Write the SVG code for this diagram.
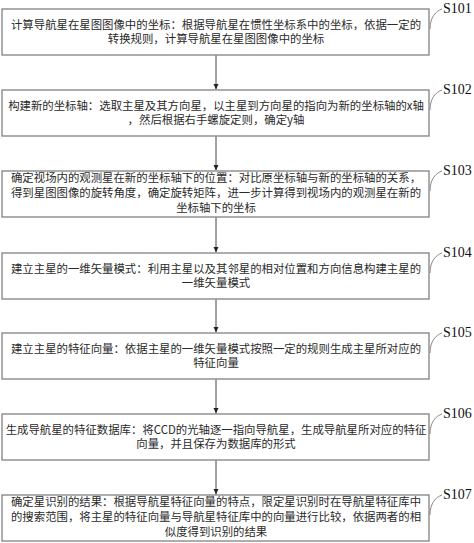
<svg xmlns="http://www.w3.org/2000/svg" width="474" height="543" viewBox="0 0 474 543">
<defs>
<marker id="ah" markerWidth="6" markerHeight="6" refX="5" refY="3" orient="auto" markerUnits="userSpaceOnUse">
<path d="M0,0.5 L5.5,3 L0,5.5 Z" fill="#222"/>
</marker>
<style>
.box{fill:#fff;stroke:#8a8a8a;stroke-width:1.4}
.t{font-family:"Noto Sans CJK SC","Noto Sans",sans-serif;font-size:11.4px;fill:#2a2a2a;text-anchor:middle}
.lbl{font-family:"Liberation Serif",serif;font-size:14px;fill:#111}
.lead{fill:none;stroke:#8a8a8a;stroke-width:1}
.conn{stroke:#444;stroke-width:1;fill:none}
</style>
</defs>
<rect width="474" height="543" fill="#fff"/>
<g id="connectors">
<line class="conn" x1="216" y1="55" x2="216" y2="89" marker-end="url(#ah)"/>
<line class="conn" x1="216" y1="136" x2="216" y2="170" marker-end="url(#ah)"/>
<line class="conn" x1="216" y1="217" x2="216" y2="252" marker-end="url(#ah)"/>
<line class="conn" x1="216" y1="299" x2="216" y2="332" marker-end="url(#ah)"/>
<line class="conn" x1="216" y1="379" x2="216" y2="413" marker-end="url(#ah)"/>
<line class="conn" x1="216" y1="460" x2="216" y2="494" marker-end="url(#ah)"/>
</g>
<g id="S101">
<rect class="box" x="2" y="9" width="427" height="46"/>
<text class="t" x="216" y="28.8">计算导航星在星图图像中的坐标：根据导航星在惯性坐标系中的坐标，依据一定的</text>
<text class="t" x="216" y="43.3">转换规则，计算导航星在星图图像中的坐标</text>
<path class="lead" d="M430,29 C430,17 436,11 442,9"/>
<text class="lbl" x="443" y="13">S101</text>
</g>
<g id="S102">
<rect class="box" x="2" y="90" width="427" height="46"/>
<text class="t" x="216" y="109.8">构建新的坐标轴：选取主星及其方向星，以主星到方向星的指向为新的坐标轴的x轴</text>
<text class="t" x="216" y="124.3">，然后根据右手螺旋定则，确定y轴</text>
<path class="lead" d="M430,110 C430,98 436,92 442,90"/>
<text class="lbl" x="443" y="94">S102</text>
</g>
<g id="S103">
<rect class="box" x="2" y="171" width="427" height="46"/>
<text class="t" x="216" y="182.3">确定视场内的观测星在新的坐标轴下的位置：对比原坐标轴与新的坐标轴的关系，</text>
<text class="t" x="216" y="197.3">得到星图图像的旋转角度，确定旋转矩阵，进一步计算得到视场内的观测星在新的</text>
<text class="t" x="216" y="212.3">坐标轴下的坐标</text>
<path class="lead" d="M430,191 C430,179 436,173 442,171"/>
<text class="lbl" x="443" y="175">S103</text>
</g>
<g id="S104">
<rect class="box" x="2" y="253" width="427" height="46"/>
<text class="t" x="216" y="272.8">建立主星的一维矢量模式：利用主星以及其邻星的相对位置和方向信息构建主星的</text>
<text class="t" x="216" y="287.3">一维矢量模式</text>
<path class="lead" d="M430,273 C430,261 436,255 442,253"/>
<text class="lbl" x="443" y="257">S104</text>
</g>
<g id="S105">
<rect class="box" x="2" y="333" width="427" height="46"/>
<text class="t" x="216" y="352.8">建立主星的特征向量：依据主星的一维矢量模式按照一定的规则生成主星所对应的</text>
<text class="t" x="216" y="367.3">特征向量</text>
<path class="lead" d="M430,353 C430,341 436,335 442,333"/>
<text class="lbl" x="443" y="337">S105</text>
</g>
<g id="S106">
<rect class="box" x="2" y="414" width="427" height="46"/>
<text class="t" x="216" y="433.8">生成导航星的特征数据库：将CCD的光轴逐一指向导航星，生成导航星所对应的特征</text>
<text class="t" x="216" y="448.3">向量，并且保存为数据库的形式</text>
<path class="lead" d="M430,434 C430,422 436,416 442,414"/>
<text class="lbl" x="443" y="418">S106</text>
</g>
<g id="S107">
<rect class="box" x="2" y="495" width="427" height="46"/>
<text class="t" x="216" y="506.3">确定星识别的结果：根据导航星特征向量的特点，限定星识别时在导航星特征库中</text>
<text class="t" x="216" y="521.3">的搜索范围，将主星的特征向量与导航星特征库中的向量进行比较，依据两者的相</text>
<text class="t" x="216" y="536.3">似度得到识别的结果</text>
<path class="lead" d="M430,515 C430,503 436,497 442,495"/>
<text class="lbl" x="443" y="499">S107</text>
</g>
</svg>
